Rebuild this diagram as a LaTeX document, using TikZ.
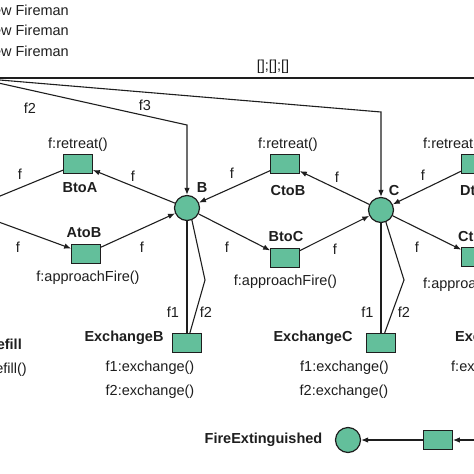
\documentclass[tikz,border=0pt]{standalone}
\usepackage{fontspec}
\setmainfont{Liberation Sans}
\usetikzlibrary{arrows.meta}
\definecolor{pn}{RGB}{99,191,155}
\definecolor{ink}{RGB}{30,30,30}
\begin{document}
\begin{tikzpicture}[x=1pt,y=-1pt,
  every node/.style={font=\fontsize{14.5}{17}\selectfont, inner sep=0pt, text=ink},
  place/.style={circle,draw=ink,fill=pn,minimum size=25pt,line width=1.2pt},
  trans/.style={rectangle,draw=ink,fill=pn,minimum width=28.5pt,minimum height=18.5pt,line width=1.2pt},
  arc/.style={draw=ink,line width=1.1pt,-{Latex[length=7pt,width=5.5pt]}},
  plain/.style={draw=ink,line width=1.1pt},
  bold/.style={font=\fontsize{14.5}{17}\selectfont\bfseries}
]
\useasboundingbox (0,0) rectangle (474,474);
% off-canvas anchors
\coordinate (A) at (-34,210);
\coordinate (D) at (602,210);
\coordinate (src) at (-24,78);
\coordinate (kB) at (187,125);
\coordinate (kC) at (381,112);
\coordinate (east) at (500,78);
\coordinate (kB2) at (205,280);
\coordinate (kC2) at (404,280);
\coordinate (FR) at (490,440);
% places and transitions
\node[place] (B) at (187,208) {};
\node[place] (C) at (381,210) {};
\node[trans] (BtoA) at (78,164) {};
\node[trans] (AtoB) at (86,254) {};
\node[trans] (CtoB) at (285,164) {};
\node[trans] (BtoC) at (285,258) {};
\node[trans] (DtoC) at (476,164) {};
\node[trans] (CtoD) at (476,257) {};
\node[trans] (ExB) at (187,343) {};
\node[trans] (ExC) at (381,343) {};
\node[place] (FE) at (348,440) {};
\node[trans] (FT) at (438,440) {};
% connectors
\draw[plain] (src) -- (east);
\draw[arc] (src) -- (kB) -- (B);
\draw[arc] (src) -- (kC) -- (C);
\draw[arc] (B) -- (BtoA);
\draw[arc] (BtoA) -- (A);
\draw[arc] (A) -- (AtoB);
\draw[arc] (AtoB) -- (B);
\draw[arc] (C) -- (CtoB);
\draw[arc] (CtoB) -- (B);
\draw[arc] (B) -- (BtoC);
\draw[arc] (BtoC) -- (C);
\draw[arc] (D) -- (DtoC);
\draw[arc] (DtoC) -- (C);
\draw[arc] (C) -- (CtoD);
\draw[arc] (CtoD) -- (D);
\draw[plain] (B) -- (ExB);
\draw[plain] (B.-68) -- (kB2) -- (ExB);
\draw[plain] (C) -- (ExC);
\draw[plain] (C.-68) -- (kC2) -- (ExC);
\draw[arc] (FR) -- (FT);
\draw[arc] (FT) -- (FE);
% texts
\node[anchor=east] (n1) at (69,10) {new Fireman};
\node[anchor=east] (n2) at (69,30) {new Fireman};
\node[anchor=east] (n3) at (69,51) {new Fireman};
\node (tok) at (273,67) {[];[];[]};
\node (lf2) at (30,108) {f2};
\node (lf3) at (145,105) {f3};
\node[bold] (lB) at (202,188) {B};
\node[bold] (lC) at (394,191) {C};
\node (rBtoA) at (78,145) {f:retreat()};
\node[bold] (nBtoA) at (80,188) {BtoA};
\node[bold] (nAtoB) at (84,233) {AtoB};
\node (aAtoB) at (88,278) {f:approachFire()};
\node (rCtoB) at (288,145) {f:retreat()};
\node[bold] (nCtoB) at (288,191) {CtoB};
\node[bold] (nBtoC) at (286,237) {BtoC};
\node (aBtoC) at (285.5,282) {f:approachFire()};
\node[anchor=west] (rDtoC) at (423,145) {f:retreat()};
\node[bold,anchor=west] (nDtoC) at (460,191) {DtoC};
\node[bold,anchor=west] (nCtoD) at (458,237) {CtoD};
\node[anchor=west] (aCtoD) at (423,285) {f:approachFire()};
\node (f1) at (20,174) {f};
\node (f2) at (133,176) {f};
\node (f3) at (18,247) {f};
\node (f4) at (142,247) {f};
\node (f5) at (232,173) {f};
\node (f6) at (337,177) {f};
\node (f7) at (227,247) {f};
\node (f8) at (335,249) {f};
\node (f9) at (423,175) {f};
\node (f10) at (417,247) {f};
\node (eB1) at (173,312) {f1};
\node (eB2) at (206,312) {f2};
\node (eC1) at (367.5,312) {f1};
\node (eC2) at (404,312) {f2};
\node[bold] (nExB) at (124,338) {ExchangeB};
\node[bold] (nExC) at (313,338) {ExchangeC};
\node (xB1) at (150,368) {f1:exchange()};
\node (xB2) at (150,392) {f2:exchange()};
\node (xC1) at (344.5,368) {f1:exchange()};
\node (xC2) at (344,392) {f2:exchange()};
\node[bold,anchor=west] (nExD) at (455,338) {ExchangeD};
\node[anchor=west] (xD) at (451,368) {f:exchange()};
\node[bold,anchor=east] (nRef) at (22,344) {Refill};
\node[anchor=east] (xRef) at (27,370) {f:refill()};
\node[bold] (nFE) at (263.5,440) {FireExtinguished};
\end{tikzpicture}
\end{document}
